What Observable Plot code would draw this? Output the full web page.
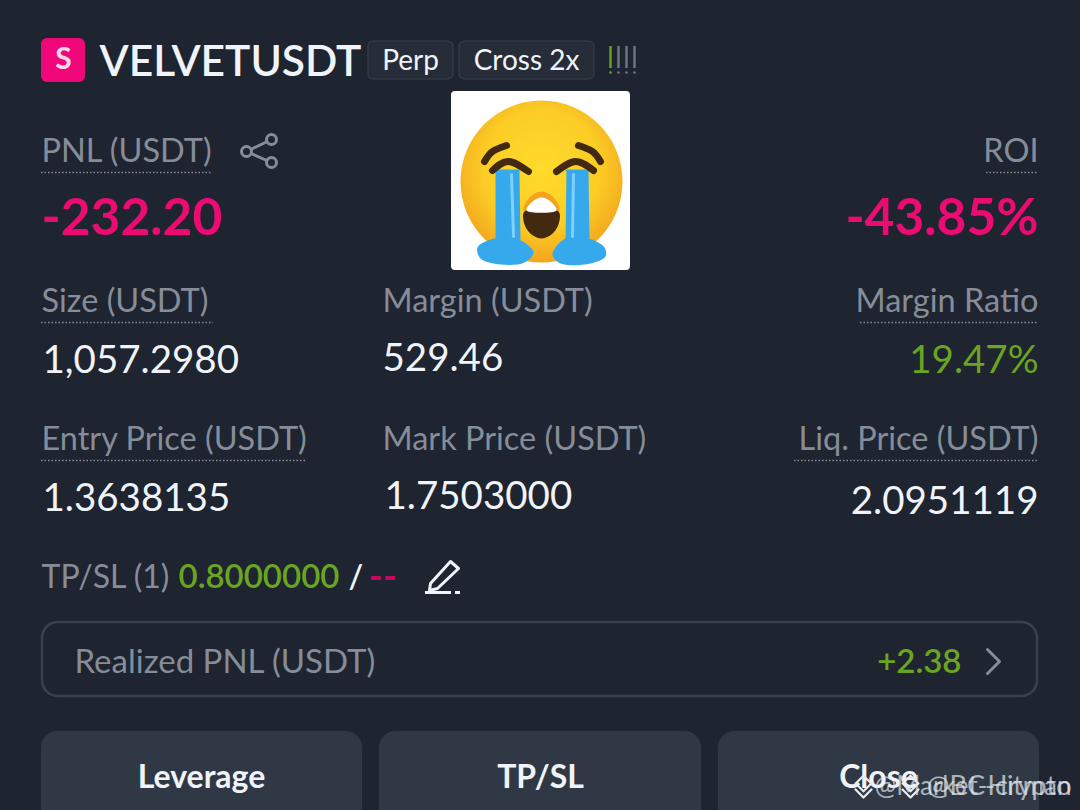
<!DOCTYPE html>
<html><head><meta charset="utf-8">
<script src="https://cdn.jsdelivr.net/npm/d3@7"></script>
<script src="https://cdn.jsdelivr.net/npm/@observablehq/plot@0.6"></script>
<style>html,body{margin:0;padding:0;background:#1e2430;overflow:hidden}svg{display:block}</style>
</head><body><div id="c"></div><script>
// content
const symbol = "VELVETUSDT";
const tags = ["Perp", "Cross 2x"];
const metricLabels = ["PNL (USDT)", "ROI", "Size (USDT)", "Margin (USDT)", "Margin Ratio", "Entry Price (USDT)", "Mark Price (USDT)", "Liq. Price (USDT)"];
const metricValues = ["-232.20", "-43.85%", "1,057.2980", "529.46", "19.47%", "1.3638135", "1.7503000", "2.0951119"];
const buttons = ["Leverage", "TP/SL", "Close"];
const tpLabel = "TP/SL (1)", tpValue = "0.8000000", slValue = "--", realizedLabel = "Realized PNL (USDT)", realizedValue = "+2.38";
const watermarks = ["@Market-Hitman", "@BC-crypto"];

// palette & layout
const bg = "#1e2430", grey = "#868d99", white = "#f0f3f8", pink = "#ec0b70", green = "#6aa521", btn = "#2f3844";
const font = "Lato, sans-serif";
const labelPos = [[41,151,"start"],[1038,151,"end"],[41,301,"start"],[382,301,"start"],[1038,301,"end"],[41,439,"start"],[382,439,"start"],[1038,439,"end"]];
const valuePos = [[41,218,"start",51.5,pink,700],[1038,218,"end",51.5,pink,700],[42,360,"start",38.5,white,400],[382,358,"start",38.5,white,400],[1038,360,"end",38.5,green,400],[42,498,"start",38.5,white,400],[384,496,"start",38.5,white,400],[1038,501,"end",38.5,white,400]];
const underlines = [[41,211,172],[986,1038,172],[41,213,322],[860,1038,322],[41,306,460],[794,1038,460]];
const tagBoxes = [[368,453,41,79,410],[459,594,41,79,526]];
const btnBoxes = [[41,362,731,830,201],[379,701,731,830,540],[718,1039,731,830,878]];

const labels = metricLabels.map((t,i)=>({t,x:labelPos[i][0],y:labelPos[i][1],a:labelPos[i][2]}));
const values = metricValues.map((t,i)=>({t,x:valuePos[i][0],y:valuePos[i][1],a:valuePos[i][2],s:valuePos[i][3],c:valuePos[i][4],w:valuePos[i][5]}));
const txt = (d,o)=>Plot.text(d,{x:"x",y:"y",text:"t",textAnchor:o.a??"start",lineAnchor:"middle",fontFamily:font,...o});
const P = (pts,g)=>pts.map(([x,y])=>({x,y,g}));

// emoji outlines
const tearL = [[495,170],[518,170],[519,242],[495,242]];
const tearR = [[566,170],[587,170],[588,242],[565,242]];
const puddleL = [[494,238],[520,240],[533,252],[524,262],[500,264],[480,258],[477,247]];
const puddleR = [[565,238],[588,238],[604,247],[605,256],[590,263],[560,263],[552,254]];
const mouth = [[524,211],[558,211],[558,224],[551,234],[541,238],[531,234],[524,224]];
const mouthTop = [[526,210],[532,201],[541,197],[550,201],[556,210]];
const mouthRim = [[523,210],[530,196],[541,191],[552,196],[559,210]];
const strokes = [
  ...P([[484,161],[492,151],[506,145]],"b1"), ...P([[600,161],[592,151],[578,145]],"b2"),
  ...P([[492,170],[508,161],[528,171]],"e1"), ...P([[556,171],[575,161],[593,170]],"e2")];
const pencil = [[430,583],[450,561],[458,568],[437,588],[429,590]];
const share = [[246,151],[271,139],[246,151],[271,162]];

const defs = () => {
  const s = d3.create("svg:defs");
  const g = s.append("radialGradient").attr("id","face").attr("cx","50%").attr("cy","42%").attr("r","58%");
  g.append("stop").attr("offset","0%").attr("stop-color","#fedb2c");
  g.append("stop").attr("offset","62%").attr("stop-color","#fbcd25");
  g.append("stop").attr("offset","100%").attr("stop-color","#f3a51f");
  return s.node();
};

const plot = Plot.plot({
  width:1080, height:810, margin:0, style:{background:bg},
  x:{domain:[0,1080],range:[0,1080],axis:null},
  y:{domain:[0,810],range:[0,810],axis:null},
  marks:[
    defs,
    // header
    Plot.rect([[41,85,38,82]],{x1:d=>d[0],x2:d=>d[1],y1:d=>d[2],y2:d=>d[3],fill:"#f0087a",rx:6}),
    txt([{t:"S",x:63,y:59}],{a:"middle",fontSize:30,fontWeight:700,fill:"#fbd7ea"}),
    txt([{t:symbol,x:99,y:62}],{fontSize:42.5,fontWeight:600,fill:white}),
    Plot.rect(tagBoxes,{x1:d=>d[0],x2:d=>d[1],y1:d=>d[2],y2:d=>d[3],fill:"#262d39",stroke:"#3b4350",rx:5}),
    Plot.text(tags,{x:(d,i)=>tagBoxes[i][4],y:61,text:d=>d,fontFamily:font,fontSize:28,fill:white}),
    Plot.ruleX([610,618,626,634],{y1:46,y2:68,stroke:(d,i)=>i==0?"#6aa521":"#6f7783",strokeWidth:2.4}),
    Plot.dot([610,618,626,634],{x:d=>d,y:72,r:1.3,fill:(d,i)=>i==0?"#6aa521":"#6f7783"}),
    // labels and values
    txt(labels,{textAnchor:"start",filter:d=>d.a=="start",fontSize:32.5,fill:grey}),
    txt(labels,{textAnchor:"end",filter:d=>d.a=="end",fontSize:32.5,fill:grey}),
    Plot.ruleY(underlines,{x1:d=>d[0],x2:d=>d[1],y:d=>d[2],stroke:grey,strokeWidth:1.4,strokeDasharray:"1.5 2"}),
    ...["start","end"].flatMap(a=>[400,700].map(w=>txt(values,{textAnchor:a,filter:d=>d.a==a&&d.w==w,fontSize:d=>d.s,fill:d=>d.c,fontWeight:w}))),
    // share icon
    Plot.line(share,{x:d=>d[0],y:d=>d[1],stroke:grey,strokeWidth:3}),
    Plot.dot([[246,151],[271,139],[271,162]],{x:d=>d[0],y:d=>d[1],r:5,fill:bg,stroke:grey,strokeWidth:3}),
    // emoji
    Plot.rect([[451,630,91,270]],{x1:d=>d[0],x2:d=>d[1],y1:d=>d[2],y2:d=>d[3],fill:"#ffffff",rx:4}),
    Plot.dot([[541,181]],{x:d=>d[0],y:d=>d[1],r:81,fill:"url(#face)"}),
    Plot.line(P(mouthRim,"r"),{x:"x",y:"y",curve:"catmull-rom-closed",fill:"#f5a31d",stroke:null}),
    Plot.line(P(mouth,"m"),{x:"x",y:"y",curve:"catmull-rom-closed",fill:"#42290f",stroke:null}),
    Plot.line(P(mouthTop,"t"),{x:"x",y:"y",curve:"catmull-rom-closed",fill:"#ffffff",stroke:null}),
    ...[tearL,tearR].map(t=>Plot.line(P(t,"t"),{x:"x",y:"y",fill:"#36a9ec",stroke:"#36a9ec",strokeWidth:2})),
    ...[puddleL,puddleR].map(t=>Plot.line(P(t,"t"),{x:"x",y:"y",curve:"catmull-rom-closed",fill:"#36a9ec",stroke:null})),
    Plot.line(P([[511,174],[513,236]],"l"),{x:"x",y:"y",stroke:"#7fd0fa",strokeWidth:3}),
    Plot.line(P([[573,174],[572,236]],"r"),{x:"x",y:"y",stroke:"#7fd0fa",strokeWidth:3}),
    Plot.line(strokes,{x:"x",y:"y",z:"g",curve:"natural",stroke:"#42290f",strokeWidth:7,strokeLinecap:"round"}),
    // tp/sl row
    txt([{t:tpLabel,x:41,y:577}],{fontSize:32,fill:grey}),
    txt([{t:tpValue,x:178,y:577}],{fontSize:33,fontWeight:600,fill:green}),
    txt([{t:"/",x:348,y:577}],{fontSize:32,fontWeight:600,fill:white}),
    txt([{t:slValue,x:368,y:577}],{fontSize:38,fontWeight:700,fill:"#c4085f"}),
    Plot.line(pencil.concat([pencil[0]]),{x:d=>d[0],y:d=>d[1],stroke:white,strokeWidth:3,strokeLinejoin:"round"}),
    Plot.ruleY([[425,451,592],[455,460,592]],{x1:d=>d[0],x2:d=>d[1],y:d=>d[2],stroke:white,strokeWidth:3}),
    // realized card
    Plot.rect([[42,1037,622,696]],{x1:d=>d[0],x2:d=>d[1],y1:d=>d[2],y2:d=>d[3],fill:"none",stroke:"#39414e",strokeWidth:2.5,rx:16}),
    txt([{t:realizedLabel,x:74,y:662}],{fontSize:33,fill:grey}),
    txt([{t:realizedValue,x:961,y:662}],{textAnchor:"end",fontSize:33,fontWeight:600,fill:green}),
    Plot.line([[987,649],[999,661],[987,673]],{x:d=>d[0],y:d=>d[1],stroke:grey,strokeWidth:3}),
    // buttons
    Plot.rect(btnBoxes,{x1:d=>d[0],x2:d=>d[1],y1:d=>d[2],y2:d=>d[3],fill:btn,rx:16}),
    Plot.text(buttons,{x:(d,i)=>btnBoxes[i][4],y:777,text:d=>d,fontFamily:font,fontSize:32,fontWeight:700,fill:white}),
    // watermark
    Plot.dot([[863,783],[910,783]],{x:d=>d[0],y:d=>d[1],symbol:"diamond2",r:7,stroke:"#e9edf2",strokeWidth:2.2}),
    ...[863,910].map(c=>Plot.line([[c-8,789],[c,797],[c+8,789]],{x:d=>d[0],y:d=>d[1],stroke:"#e9edf2",strokeWidth:2.2})),
    Plot.text(watermarks,{x:1071,y:786,text:d=>d,textAnchor:"end",fontFamily:font,fontSize:(d,i)=>i?27:26,fill:"#e8ebf0",fillOpacity:0.7})
  ]
});
document.getElementById("c").append(plot);
</script></body></html>
